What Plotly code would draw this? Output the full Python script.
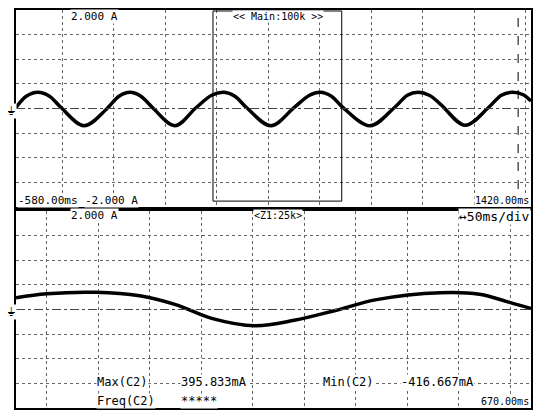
import plotly.graph_objects as go

# Top trace (main, 200 ms/div, -580..1420 ms), key points
top_t = [-580, -540, -495, -450, -405, -316, -230, -180, -137, -95, -50, 37, 120, 180, 228, 270, 315, 410, 500, 560, 601, 645, 690, 795, 890, 940, 981, 1025, 1070, 1164, 1255, 1305, 1346, 1390, 1420]
top_v = [0.02, 0.25, 0.33, 0.25, 0.02, -0.35, -0.02, 0.25, 0.33, 0.25, 0.02, -0.35, 0.02, 0.27, 0.33, 0.25, 0.02, -0.35, 0.02, 0.27, 0.33, 0.25, 0.02, -0.35, 0.02, 0.27, 0.33, 0.27, 0.08, -0.34, 0.02, 0.27, 0.33, 0.28, 0.15]
# Bottom trace (zoom, 50 ms/div, 170..670 ms)
bot_t = [170, 200, 247, 290, 325, 360, 402, 440, 480, 520, 582, 620, 650, 670]
bot_v = [0.24, 0.32, 0.35, 0.28, 0.10, -0.18, -0.33, -0.22, -0.02, 0.20, 0.34, 0.31, 0.14, 0.02]

zoom_box = [185, 685]
trig_t = 1370

mono = "DejaVu Sans Mono"
fig = go.Figure()
fig.add_trace(go.Scatter(x=top_t, y=top_v, mode="lines", line=dict(color="black", width=3.5, shape="spline"), xaxis="x", yaxis="y", showlegend=False))
fig.add_trace(go.Scatter(x=bot_t, y=bot_v, mode="lines", line=dict(color="black", width=3.5, shape="spline"), xaxis="x2", yaxis="y2", showlegend=False))

ax = dict(showgrid=True, gridcolor="#666", griddash="dot", gridwidth=1, zeroline=False,
          showticklabels=False, ticks="", mirror=True, showline=True, linecolor="black", linewidth=1.5)
fig.update_layout(
    width=550, height=416, paper_bgcolor="white", plot_bgcolor="white",
    margin=dict(l=8, r=27, t=0, b=16),
    xaxis=dict(ax, range=[-580, 1420], dtick=200, domain=[0, 1], anchor="y"),
    yaxis=dict(ax, range=[-2, 2], dtick=0.5, domain=[0.505, 1], anchor="x"),
    xaxis2=dict(ax, range=[170, 670], dtick=50, domain=[0, 1], anchor="y2"),
    yaxis2=dict(ax, range=[-2, 2], dtick=0.5, domain=[0, 0.495], anchor="x2"),
)
shapes = [
    dict(type="line", xref="x", yref="y", x0=-580, x1=1420, y0=0, y1=0, line=dict(color="#444", width=1.2, dash="dashdot")),
    dict(type="line", xref="x2", yref="y2", x0=170, x1=670, y0=0, y1=0, line=dict(color="#444", width=1.2, dash="dashdot")),
    dict(type="rect", xref="x", yref="y", x0=zoom_box[0], x1=zoom_box[1], y0=-1.88, y1=1.98, line=dict(color="black", width=1)),
    dict(type="line", xref="x", yref="y", x0=trig_t, x1=trig_t, y0=-2, y1=2, line=dict(color="black", width=1, dash="dash")),
]
fig.update_layout(shapes=shapes)

def txt(x, y, s, size=11, xa="left"):
    fig.add_annotation(x=x, y=y, xref="paper", yref="paper", text=s, showarrow=False,
                       xanchor=xa, yanchor="middle", font=dict(family=mono, size=size, color="black"), bgcolor="white", borderpad=0)

W, H = 515, 400
def px(x, y, s, size=11, xa="left"):
    txt((x - 16) / W, 1 - (y - 8) / H, s, size, xa)

px(70, 15, "2.000 A", 11)
px(278, 15, "&lt;&lt; Main:100k &gt;&gt;", 10, "center")
px(17, 199, "-580.00ms", 11)
px(84, 199, "-2.000 A", 11)
px(530, 199, "1420.00ms", 10, "right")
px(70, 215, "2.000 A", 11)
px(278, 215, "&lt;Z1:25k&gt;", 10, "center")
px(531, 216, "↔50ms/div", 13, "right")
px(96, 382, "Max(C2)", 12)
px(180, 382, "395.833mA", 12)
px(322, 382, "Min(C2)", 12)
px(400, 382, "-416.667mA", 12)
px(96, 401, "Freq(C2)", 12)
px(180, 401, "*****", 12)
px(530, 401, "670.00ms", 10, "right")
txt(-10 / W, 1 - (110 - 8) / H, "⏚", 12)
txt(-10 / W, 1 - (312 - 8) / H, "⏚", 12)

fig.write_html("out.html")
